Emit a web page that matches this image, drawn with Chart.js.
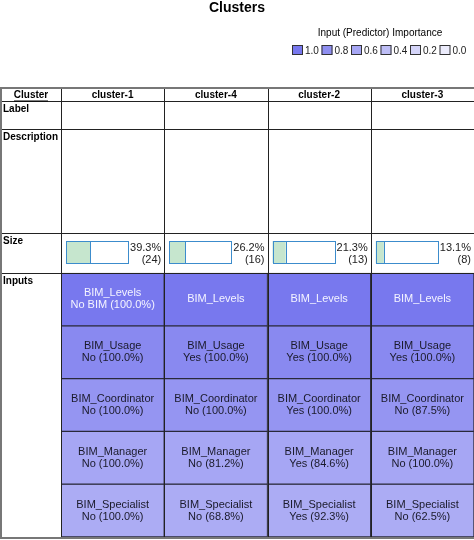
<!DOCTYPE html>
<html>
<head>
<meta charset="utf-8">
<script src="https://cdn.jsdelivr.net/npm/chart.js@4"></script>
<style>
  html, body { margin: 0; padding: 0; background: #fff; }
  #wrap { width: 474px; height: 540px; }
</style>
</head>
<body>
<div id="wrap"><canvas id="c"></canvas></div>
<script>
// Cluster columns, as ordered in the table
const clusters = ['cluster-1', 'cluster-4', 'cluster-2', 'cluster-3'];
const sizePct = [39.3, 26.2, 21.3, 13.1];
const sizeN = [24, 16, 13, 8];

// Input rows (sorted by predictor importance)
const inputs = ['BIM_Levels', 'BIM_Usage', 'BIM_Coordinator', 'BIM_Manager', 'BIM_Specialist'];
const importance = [1.0, 0.85, 0.75, 0.6, 0.55];
const modes = [
    ['No BIM (100.0%)', '', '', ''],
    ['No (100.0%)', 'Yes (100.0%)', 'Yes (100.0%)', 'Yes (100.0%)'],
    ['No (100.0%)', 'No (100.0%)', 'Yes (100.0%)', 'No (87.5%)'],
    ['No (100.0%)', 'No (81.2%)', 'Yes (84.6%)', 'No (100.0%)'],
    ['No (100.0%)', 'No (68.8%)', 'Yes (92.3%)', 'No (62.5%)']
];
const legendTicks = [1.0, 0.8, 0.6, 0.4, 0.2, 0.0];

// Row layout in y units (top of table = 0); rowTops = Label, Description, Size, Inputs, end
const rowNames = ['Label', 'Description', 'Size', 'Inputs'];
const rowTops = [13, 41, 145, 185, 449];
const headerH = 13;
const inputH = (rowTops[4] - rowTops[3]) / inputs.length;

function impColor(v) {
    // interpolate between pale lavender (0) and strong blue (1)
    let lo = [236, 236, 252], hi = [120, 120, 238];
    let c = lo.map((l, i) => Math.round(l + (hi[i] - l) * v));
    return 'rgb(' + c.join(',') + ')';
}

const datasets = inputs.map((name, r) => {
    let top = rowTops[3] + r * inputH;
    return {
        label: name,
        data: clusters.map(() => [top, top + inputH]),
        backgroundColor: impColor(importance[r]),
        borderColor: '#2a2a3a',
        borderWidth: 1,
        borderSkipped: false,
        barPercentage: 1,
        categoryPercentage: 1,
        grouped: false
    };
});

const tablePlugin = {
    id: 'clusterTable',
    afterDatasetsDraw(chart) {
        const ctx = chart.ctx, xs = chart.scales.x, ys = chart.scales.y, ca = chart.chartArea;
        const colW = (ca.right - ca.left) / clusters.length;
        const cellL = i => xs.getPixelForValue(i) - colW / 2;
        ctx.save();
        ctx.textBaseline = 'middle';

        // Title and importance legend
        ctx.fillStyle = '#000';
        ctx.textAlign = 'center';
        ctx.font = 'bold 14px "Liberation Sans", Arial, sans-serif';
        ctx.fillText('Clusters', 237, 8);
        ctx.font = '10px "Liberation Sans", Arial, sans-serif';
        ctx.fillText('Input (Predictor) Importance', 380, 33);
        ctx.textAlign = 'left';
        legendTicks.forEach((t, i) => {
            let x = 292 + i * 29.5;
            ctx.fillStyle = impColor(t);
            ctx.fillRect(x, 45, 11, 10);
            ctx.strokeStyle = '#333';
            ctx.lineWidth = 1;
            ctx.strokeRect(x + 0.5, 45.5, 10, 9);
            ctx.fillStyle = '#222';
            ctx.fillText(t.toFixed(1), x + 13, 51);
        });

        // Grid lines
        const top = ys.getPixelForValue(0), bot = ys.getPixelForValue(rowTops[4]);
        ctx.strokeStyle = '#222';
        ctx.lineWidth = 1;
        ctx.beginPath();
        [0].concat(rowTops.slice(0, 4)).forEach(v => {
            let y = Math.round(ys.getPixelForValue(v)) + 0.5;
            ctx.moveTo(1, y); ctx.lineTo(ca.right, y);
        });
        for (let i = 0; i <= clusters.length; i++) {
            let x = Math.round(cellL(i)) + 0.5;
            ctx.moveTo(x, top); ctx.lineTo(x, bot);
        }
        ctx.stroke();
        ctx.lineWidth = 2;
        ctx.strokeStyle = '#777';
        ctx.beginPath();
        ctx.moveTo(1, top); ctx.lineTo(1, bot + 2);
        ctx.moveTo(1, bot + 1); ctx.lineTo(ca.right, bot + 1);
        ctx.moveTo(0, top); ctx.lineTo(ca.right, top);
        ctx.stroke();

        // Header
        ctx.fillStyle = '#000';
        ctx.font = 'bold 10px "Liberation Sans", Arial, sans-serif';
        ctx.textAlign = 'center';
        let hy = ys.getPixelForValue(headerH / 2) + 1;
        ctx.fillText('Cluster', 31, hy);
        ctx.fillRect(14, hy + 5, 34, 1);
        clusters.forEach((c, i) => ctx.fillText(c, xs.getPixelForValue(i), hy));

        // Row labels
        ctx.textAlign = 'left';
        rowNames.forEach((n, i) => {
            ctx.fillText(n, 3, ys.getPixelForValue(rowTops[i]) + 8);
        });

        // Size bars
        const sy0 = ys.getPixelForValue(rowTops[2] + 8), sh = 22;
        ctx.font = '11px "Liberation Sans", Arial, sans-serif';
        clusters.forEach((c, i) => {
            let x0 = cellL(i) + 5, bw = 62;
            ctx.fillStyle = '#c6e6ce';
            ctx.fillRect(x0, sy0, bw * sizePct[i] / 100, sh);
            ctx.strokeStyle = '#3c8ccc';
            ctx.lineWidth = 1;
            ctx.strokeRect(Math.round(x0) + 0.5, Math.round(sy0) + 0.5, bw, sh);
            ctx.beginPath();
            let fx = Math.round(x0 + bw * sizePct[i] / 100) + 0.5;
            ctx.moveTo(fx, sy0); ctx.lineTo(fx, sy0 + sh);
            ctx.stroke();
            ctx.fillStyle = '#222';
            ctx.textAlign = 'right';
            ctx.fillText(sizePct[i].toFixed(1) + '%', cellL(i) + colW - 3, sy0 + 7);
            ctx.fillText('(' + sizeN[i] + ')', cellL(i) + colW - 3, sy0 + 19);
        });

        // Input cell texts
        ctx.textAlign = 'center';
        inputs.forEach((name, r) => {
            let cy = ys.getPixelForValue(rowTops[3] + (r + 0.5) * inputH);
            ctx.fillStyle = r === 0 ? '#f4f4ff' : '#1a1a2a';
            clusters.forEach((c, i) => {
                let cx = xs.getPixelForValue(i);
                if (modes[r][i]) {
                    ctx.fillText(name, cx, cy - 6);
                    ctx.fillText(modes[r][i], cx, cy + 6);
                } else {
                    ctx.fillText(name, cx, cy);
                }
            });
        });
        ctx.restore();
    }
};

new Chart(document.getElementById('c'), {
    type: 'bar',
    data: { labels: clusters, datasets: datasets },
    options: {
        responsive: true,
        maintainAspectRatio: false,
        animation: false,
        layout: { padding: { left: 61, top: 88, right: 0, bottom: 3 } },
        plugins: { legend: { display: false }, tooltip: { enabled: false } },
        scales: {
            x: { display: false, offset: true },
            y: { display: false, reverse: true, min: 0, max: rowTops[4] }
        }
    },
    plugins: [tablePlugin]
});
</script>
</body>
</html>
